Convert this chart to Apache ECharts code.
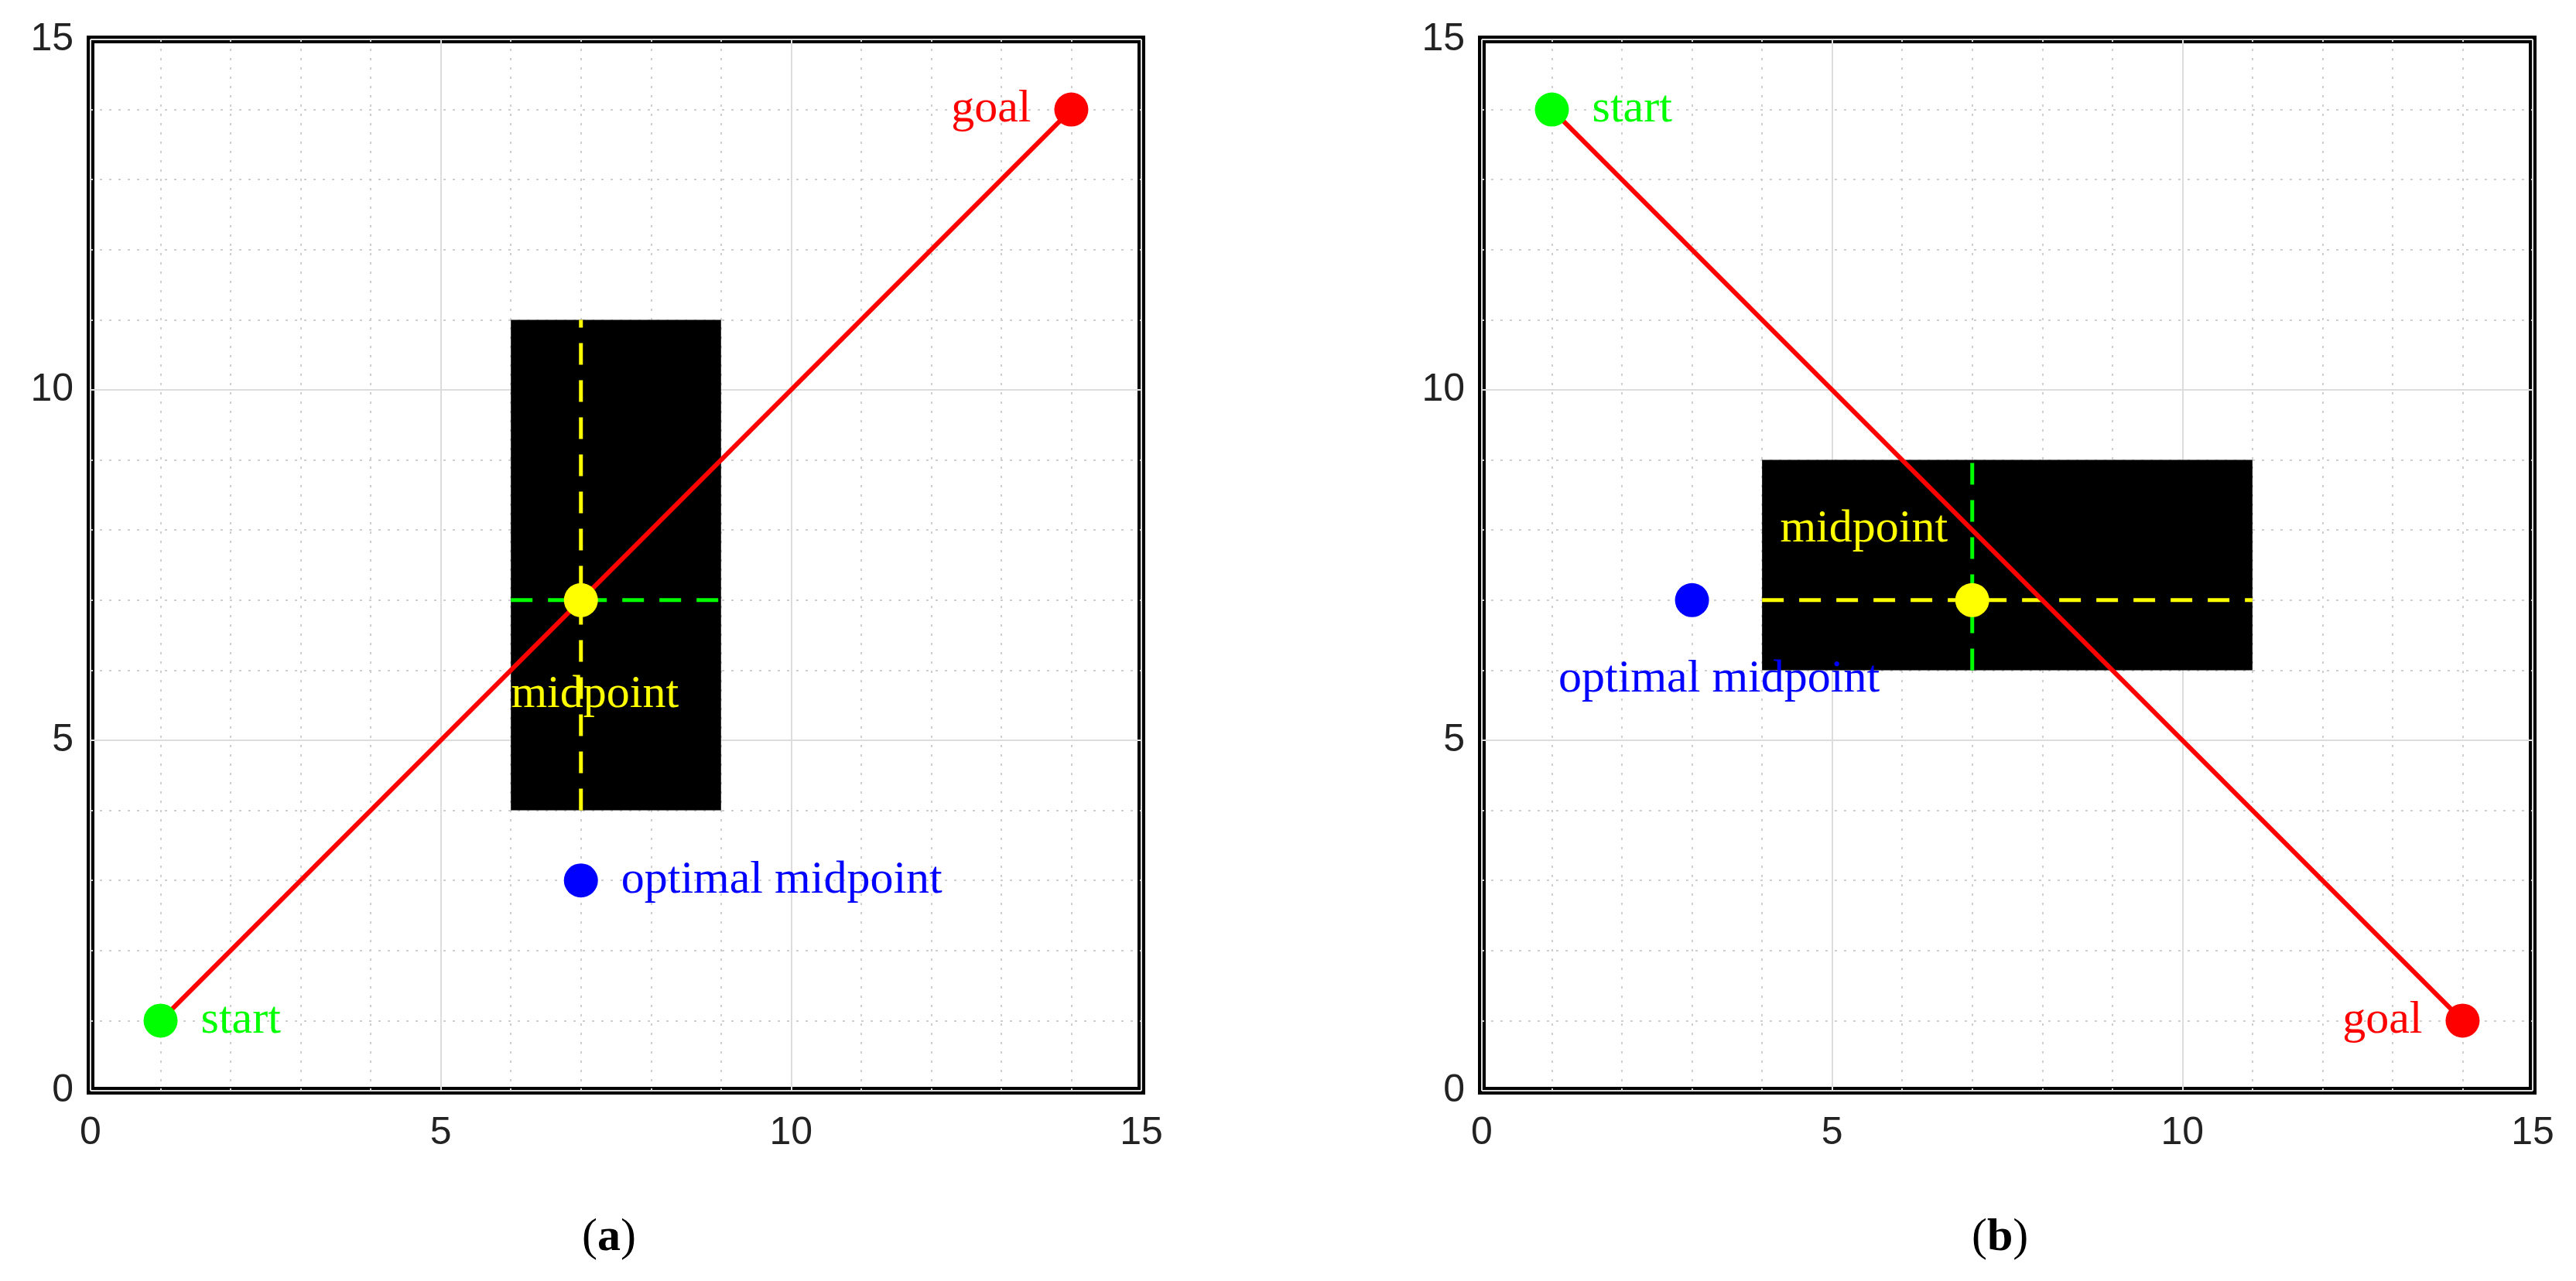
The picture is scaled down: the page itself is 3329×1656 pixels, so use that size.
<!DOCTYPE html>
<html>
<head>
<meta charset="utf-8">
<script src="https://cdn.jsdelivr.net/npm/echarts@6/dist/echarts.min.js"></script>
<style>html,body{margin:0;padding:0;background:#fff}#chart{width:3329px;height:1656px}</style>
</head>
<body>
<div id="chart"></div>
<script>
// panel (a)
const aStart = [1, 1];
const aGoal = [14, 14];
const aMid = [7, 7];
const aOpt = [7, 3];
const aRect = [6, 4, 9, 11]; // x0, y0, x1, y1
// panel (b)
const bStart = [1, 14];
const bGoal = [14, 1];
const bMid = [7, 7];
const bOpt = [3, 7];
const bRect = [4, 6, 11, 9];
const ticks = [0, 5, 10, 15];

const serif = '"Liberation Serif", "DejaVu Serif", serif';
const chart = echarts.init(document.getElementById('chart'));

function axis(idx, isX) {
  return {
    type: 'value', gridIndex: idx, min: 0, max: 15, interval: 5,
    axisLine: { show: false }, axisTick: { show: false },
    axisLabel: { color: '#222', fontSize: 50, fontFamily: 'Liberation Sans, Arial', margin: isX ? 30 : 22 },
    splitLine: { lineStyle: { color: '#dcdcdc', width: 2 } },
    minorTick: { show: false, splitNumber: 5 },
    minorSplitLine: { show: true, lineStyle: { color: '#cfcfcf', width: 2, type: [3, 9] } },
    z: 1
  };
}

function rectSeries(idx, r) {
  return {
    type: 'custom', xAxisIndex: idx, yAxisIndex: idx, z: 2,
    data: [r],
    renderItem: function (params, api) {
      const p0 = api.coord([api.value(0), api.value(3)]);
      const p1 = api.coord([api.value(2), api.value(1)]);
      return { type: 'rect', shape: { x: p0[0], y: p0[1], width: p1[0] - p0[0], height: p1[1] - p0[1] }, style: { fill: '#000' } };
    }
  };
}

function dashed(idx, pts, color) {
  return {
    type: 'line', xAxisIndex: idx, yAxisIndex: idx, z: 3, data: pts, symbol: 'none',
    lineStyle: { color: color, width: 5, type: [28, 20] }, silent: true
  };
}

function point(idx, p, color, text, pos, offset) {
  return {
    type: 'scatter', xAxisIndex: idx, yAxisIndex: idx, z: 5, symbolSize: 44,
    itemStyle: { color: color, opacity: 1 },
    data: [p],
    label: { show: !!text, formatter: text, position: pos, offset: offset || [0, 0], color: color, fontSize: 60, fontFamily: serif, distance: 30 }
  };
}

function path(idx, a, b) {
  return {
    type: 'line', xAxisIndex: idx, yAxisIndex: idx, z: 4, data: [a, b], symbol: 'none',
    lineStyle: { color: '#f00', width: 6 }
  };
}

chart.setOption({
  animation: false,
  grid: [
    { left: 117, top: 51, width: 1358, height: 1359, show: true, borderColor: '#000', borderWidth: 10, backgroundColor: '#fff' },
    { left: 1915, top: 51, width: 1358, height: 1359, show: true, borderColor: '#000', borderWidth: 10, backgroundColor: '#fff' }
  ],
  xAxis: [axis(0, true), axis(1, true)],
  yAxis: [axis(0, false), axis(1, false)],
  graphic: [
    { type: 'text', left: 752, top: 1570, style: { rich: { n: { fontSize: 60, fontFamily: serif }, b: { fontSize: 60, fontFamily: serif, fontWeight: 'bold' } }, text: '{n|(}{b|a}{n|)}' } },
    { type: 'text', left: 2548, top: 1570, style: { rich: { n: { fontSize: 60, fontFamily: serif }, b: { fontSize: 60, fontFamily: serif, fontWeight: 'bold' } }, text: '{n|(}{b|b}{n|)}' } }
  ],
  series: [
    rectSeries(0, aRect),
    dashed(0, [[7, aRect[1]], [7, aRect[3]]], '#ffff00'),
    dashed(0, [[aRect[0], 7], [aRect[2], 7]], '#00ff00'),
    path(0, aStart, aGoal),
    point(0, aStart, '#00ff00', 'start', 'right'),
    point(0, aGoal, '#ff0000', 'goal', 'left'),
    point(0, aMid, '#ffff00', 'midpoint', 'bottom', [18, 40]),
    point(0, aOpt, '#0000ff', 'optimal midpoint', 'right'),

    rectSeries(1, bRect),
    dashed(1, [[bRect[0], 7], [bRect[2], 7]], '#ffff00'),
    dashed(1, [[7, bRect[1]], [7, bRect[3]]], '#00ff00'),
    path(1, bStart, bGoal),
    point(1, bStart, '#00ff00', 'start', 'right'),
    point(1, bGoal, '#ff0000', 'goal', 'left'),
    point(1, bMid, '#ffff00', 'midpoint', 'top', [-140, -10]),
    point(1, bOpt, '#0000ff', 'optimal midpoint', 'bottom', [35, 20])
  ]
});
</script>
</body>
</html>
